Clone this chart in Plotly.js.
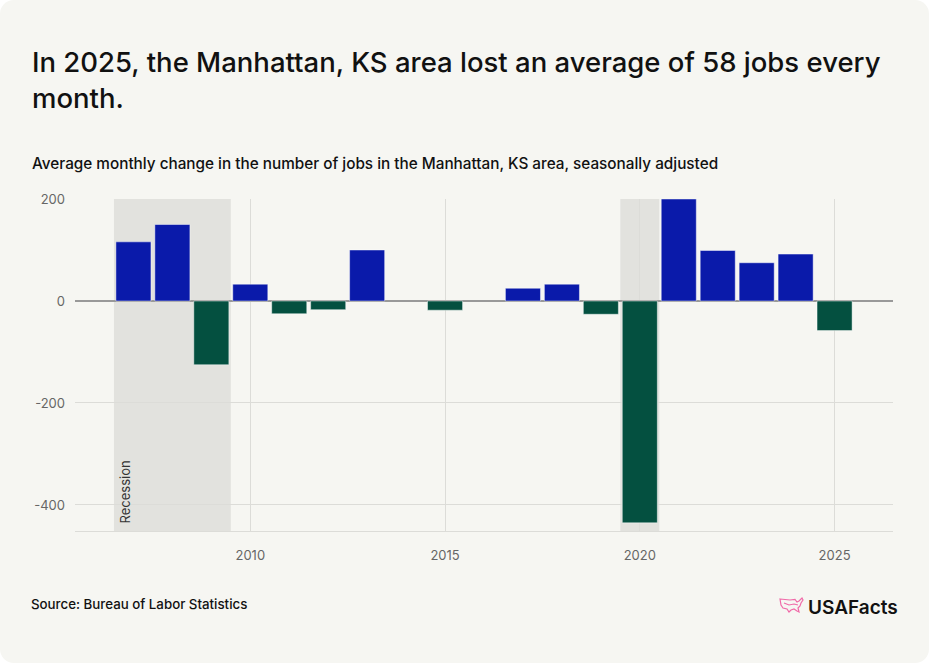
<!DOCTYPE html>
<html>
<head>
<meta charset="utf-8">
<script src="https://cdn.plot.ly/plotly-3.0.1.min.js"></script>
<style>
  html, body { margin: 0; padding: 0; background: #ffffff; }
  #card {
    width: 929px; height: 663px; border-radius: 14px; overflow: hidden;
    background: #f6f6f2;
  }
</style>
</head>
<body>
<div id="card"><div id="chart"></div></div>
<script>
// Average monthly change in jobs, Manhattan, KS area
const years = [2007, 2008, 2009, 2010, 2011, 2012, 2013, 2014, 2015, 2016,
               2017, 2018, 2019, 2020, 2021, 2022, 2023, 2024, 2025];
const jobChange = [116, 150, -125, 33, -25, -17, 100, null, -18, null,
                   25, 33, -26, -435, 200, 99, 75, 92, -58];

// Recession periods (start, end) on the year axis
const recessionStart = [2006.5, 2019.5];
const recessionEnd = [2009.5, 2020.5];

const xTicks = [2010, 2015, 2020, 2025];
const yTicks = [200, 0, -200, -400];
const yTickText = ['200', '0', '-200', '-400'];

const GAIN = '#0a1aaa';
const LOSS = '#045040';
const FONT = 'Inter, "Noto Sans", sans-serif';

const barColors = jobChange.map(v => (v !== null && v < 0) ? LOSS : GAIN);

const shapes = recessionStart.map((s, i) => ({
  type: 'rect', xref: 'x', yref: 'paper',
  x0: s, x1: recessionEnd[i], y0: 0, y1: 1,
  fillcolor: '#e2e2de', line: { width: 0 }, layer: 'below'
}));

// USAFacts map mark next to the wordmark
shapes.push({
  type: 'path', xref: 'paper', yref: 'paper',
  xsizemode: 'pixel', ysizemode: 'pixel',
  xanchor: (780 - 75) / 818, yanchor: (531 - 612) / 332,
  path: 'M 0,13 L 5,12.5 L 10,12 L 15,12.5 L 17,10 L 19,11 L 22,14 L 23,12 L 21,9 L 20,6 L 18,4 L 19,0 L 17,1 L 14,3 L 11,2 L 9,0 L 7,3 L 3,4 L 1,7 Z M 4,9 L 9,7 L 14,8 L 18,7',
  line: { color: '#f06aa8', width: 1.2 }
});

const data = [{
  type: 'bar',
  x: years,
  y: jobChange,
  width: 0.9,
  marker: { color: barColors, line: { color: 'rgba(255,255,255,0.45)', width: 1 } },
  hoverinfo: 'x+y'
}];

const layout = {
  width: 929, height: 663,
  paper_bgcolor: 'rgba(0,0,0,0)',
  plot_bgcolor: 'rgba(0,0,0,0)',
  margin: { l: 75, r: 36, t: 199, b: 132 },
  showlegend: false,
  font: { family: FONT, color: '#666666', size: 13 },
  title: {
    text: 'In 2025, the Manhattan, KS area lost an average of 58 jobs every<br>month.',
    font: { family: FONT, size: 27.5, color: '#111111', weight: 500 },
    xref: 'container', yref: 'container',
    x: 32 / 929, xanchor: 'left',
    y: 1 - 72 / 663, yanchor: 'top'
  },
  xaxis: {
    range: [2005.5, 2026.5],
    tickvals: xTicks,
    ticktext: xTicks.map(String),
    showgrid: true, gridcolor: '#dcdcd8', gridwidth: 1,
    zeroline: false,
    showline: true, linecolor: '#dcdcd8', linewidth: 1,
    ticks: '', ticklabelstandoff: 12,
    tickfont: { family: FONT, size: 13, color: '#666666' },
    fixedrange: true
  },
  yaxis: {
    range: [-451, 200],
    tickvals: yTicks,
    ticktext: yTickText,
    showgrid: true, gridcolor: '#dcdcd8', gridwidth: 1,
    zeroline: true, zerolinecolor: '#999999', zerolinewidth: 1.5,
    showline: false,
    ticks: '', ticklabelstandoff: 9,
    tickfont: { family: FONT, size: 13, color: '#666666' },
    fixedrange: true
  },
  shapes: shapes,
  annotations: [
    {
      text: 'Average monthly change in the number of jobs in the Manhattan, KS area, seasonally adjusted',
      xref: 'paper', yref: 'paper',
      x: (30 - 75) / 818, xanchor: 'left',
      y: (531 - 152) / 332, yanchor: 'top',
      showarrow: false,
      font: { family: FONT, size: 15.3, color: '#111111', weight: 500 }
    },
    {
      text: 'Recession',
      xref: 'x', yref: 'paper',
      x: recessionStart[0], xanchor: 'left', xshift: 1,
      y: 0, yanchor: 'bottom', yshift: 6,
      textangle: -90, showarrow: false,
      font: { family: FONT, size: 13, color: '#333333' }
    },
    {
      text: 'Source: Bureau of Labor Statistics',
      xref: 'paper', yref: 'paper',
      x: (29 - 75) / 818, xanchor: 'left',
      y: (531 - 594) / 332, yanchor: 'top',
      showarrow: false,
      font: { family: FONT, size: 13.3, color: '#111111', weight: 500 }
    },
    {
      text: 'USAFacts',
      xref: 'paper', yref: 'paper',
      x: (806 - 75) / 818, xanchor: 'left',
      y: (531 - 594) / 332, yanchor: 'top',
      showarrow: false,
      font: { family: FONT, size: 19, color: '#111111', weight: 600 }
    }
  ]
};

Plotly.newPlot('chart', data, layout, { displayModeBar: false, staticPlot: true });
</script>
</body>
</html>
